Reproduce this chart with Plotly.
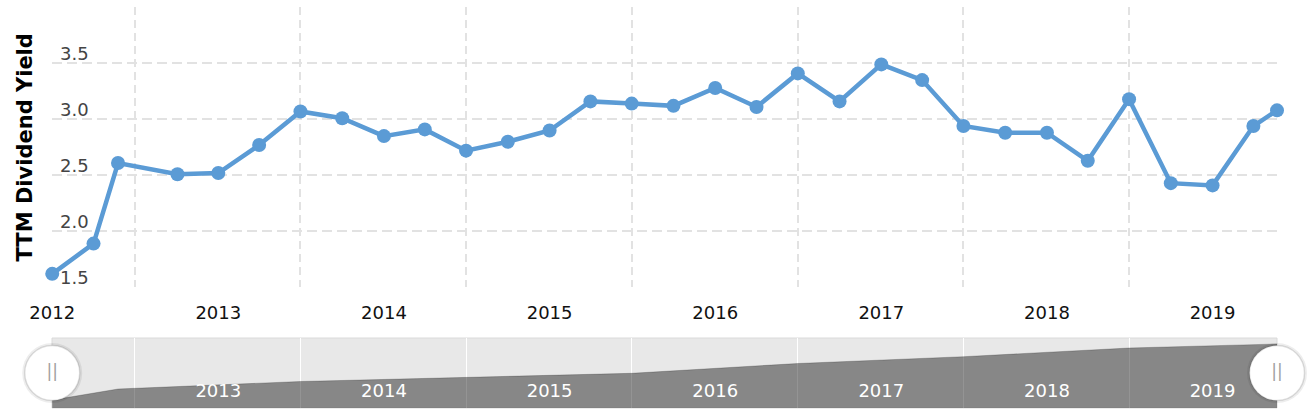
import plotly.graph_objects as go

# TTM dividend yield, quarterly points
dates = ["2012-01-01", "2012-04-01", "2012-05-25", "2012-10-03",
         "2013-01-01", "2013-04-01", "2013-07-01", "2013-10-01",
         "2014-01-01", "2014-04-01", "2014-07-01", "2014-10-01",
         "2015-01-01", "2015-04-01", "2015-07-01", "2015-10-01",
         "2016-01-01", "2016-04-01", "2016-07-01", "2016-10-01",
         "2017-01-01", "2017-04-01", "2017-07-01", "2017-10-01",
         "2018-01-01", "2018-04-01", "2018-07-01", "2018-10-01",
         "2019-01-01", "2019-04-01", "2019-05-23"]
yield_values = [1.62, 1.89, 2.61, 2.51,
                2.52, 2.77, 3.07, 3.01,
                2.85, 2.91, 2.72, 2.80,
                2.90, 3.16, 3.14, 3.12,
                3.28, 3.11, 3.41, 3.16,
                3.49, 3.35, 2.94, 2.88,
                2.88, 2.63, 3.18, 2.43,
                2.41, 2.94, 3.08]

# navigator (scroll bar) series, arbitrary scale 0-70
nav_dates = ["2012-01-01", "2012-05-25", "2013-07-01", "2014-07-01", "2015-07-01",
             "2016-07-01", "2017-07-01", "2018-07-01", "2019-05-23"]
nav_values = [8, 19, 26.5, 30.3, 34.7, 44.5, 51.3, 60, 64]
nav_range = [0, 70]

years = [2012, 2013, 2014, 2015, 2016, 2017, 2018, 2019]
year_ticks = [f"{y}-01-01" for y in years]
year_labels = [str(y) for y in years]
grid_dates = [f"{y}-07-01" for y in years[:-1]]

y_ticks = [1.5, 2.0, 2.5, 3.0, 3.5, 4.0]
y_labels = ["1.5", "2.0", "2.5", "3.0", "3.5", ""]

W, H = 1316, 420
x_range = ["2011-12-31 12:00", dates[-1]]
blue = "#5b9bd5"
font = "DejaVu Sans, Verdana, sans-serif"

fig = go.Figure()

# main series
fig.add_trace(go.Scatter(x=dates, y=yield_values, mode="lines+markers",
                         line=dict(color=blue, width=4.5),
                         marker=dict(color=blue, size=14),
                         cliponaxis=False, name="TTM Dividend Yield"))

# navigator area
fig.add_trace(go.Scatter(x=nav_dates, y=nav_values, mode="lines", fill="tozeroy",
                         fillcolor="rgba(0,0,0,0.42)",
                         line=dict(color="rgba(0,0,0,0.42)", width=0.5),
                         xaxis="x2", yaxis="y2", hoverinfo="skip"))

# navigator handles at both ends of the selected range
mid = sum(nav_range) / 2
handle_x = [dates[0], dates[-1]]
fig.add_trace(go.Scatter(x=handle_x, y=[mid, mid], mode="markers",
                         marker=dict(color="rgba(0,0,0,0.07)", size=60, line=dict(width=0)),
                         cliponaxis=False, xaxis="x2", yaxis="y2", hoverinfo="skip"))
fig.add_trace(go.Scatter(x=handle_x, y=[mid, mid], mode="markers+text",
                         text=["||", "||"], textposition="middle center",
                         textfont=dict(color="#a0a0a0", size=17, family=font),
                         marker=dict(color="white", size=55,
                                     line=dict(color="rgba(0,0,0,0.12)", width=1.5)),
                         cliponaxis=False, xaxis="x2", yaxis="y2", hoverinfo="skip"))

fig.update_layout(
    width=W, height=H,
    margin=dict(l=52, r=39, t=0, b=0),
    paper_bgcolor="white", plot_bgcolor="white",
    showlegend=False,
    font=dict(family=font, size=18, color="#111"),
    xaxis=dict(domain=[0, 1], range=x_range, type="date", automargin=False,
               tickmode="array", tickvals=year_ticks, ticktext=year_labels,
               showgrid=False, zeroline=False, showline=False, ticks="",
               ticklabelstandoff=13, ticklabeloverflow="allow",
               minor=dict(tickmode="array", tickvals=grid_dates, showgrid=True,
                          gridcolor="#e2e2e2", gridwidth=1.5, griddash="8px,5px")),
    yaxis=dict(domain=[(H - 287.3) / H, (H - 7.3) / H], range=[1.5, 4.0],
               automargin=False,
               tickmode="array", tickvals=y_ticks, ticktext=y_labels,
               showgrid=True, gridcolor="#e2e2e2", gridwidth=1.5, griddash="10px,5px",
               zeroline=False, showline=False, ticks="",
               ticklabelposition="inside top", ticklabelstandoff=5, ticklabelshift=3,
               ticklabeloverflow="allow", layer="below traces",
               title=dict(text="<b>TTM Dividend Yield</b>", standoff=21,
                          font=dict(size=21, color="black", family=font))),
    xaxis2=dict(domain=[0, 1], range=x_range, type="date", anchor="y2",
                automargin=False,
                tickmode="array", tickvals=year_ticks[1:], ticktext=year_labels[1:],
                tickfont=dict(color="white", size=18),
                ticklabelposition="inside", ticklabelstandoff=4, layer="above traces",
                showgrid=False, zeroline=False, showline=False, ticks="",
                minor=dict(tickmode="array", tickvals=grid_dates, showgrid=True,
                           gridcolor="white", gridwidth=1)),
    yaxis2=dict(domain=[12 / H, 82 / H], range=nav_range, anchor="x2", visible=False),
    shapes=[dict(type="rect", xref="x2 domain", yref="y2 domain",
                 x0=0, x1=1, y0=0, y1=1, fillcolor="#e8e8e8",
                 line=dict(color="#dadada", width=1), layer="below")],
)

# the page opens with the browser's default 8px body margin; drop it so the
# figure sits at the window origin
fig.write_html("out.html", config={"displayModeBar": False},
               post_script="document.body.style.margin='0';")
